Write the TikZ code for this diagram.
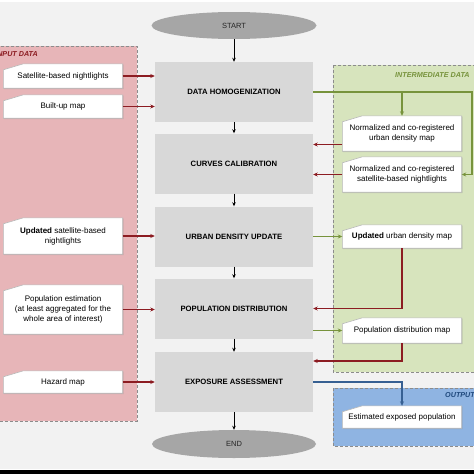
\documentclass[tikz,border=0pt]{standalone}
\usepackage{fontspec}
\setmainfont{Liberation Sans}
\usepackage{xcolor}
\usetikzlibrary{arrows.meta, shapes.geometric, positioning, calc, shadows}
\definecolor{pagegray}{RGB}{242,242,242}
\definecolor{procgray}{RGB}{216,216,216}
\definecolor{termgray}{RGB}{166,166,166}
\definecolor{inzone}{RGB}{231,181,184}
\definecolor{midzone}{RGB}{215,228,189}
\definecolor{outzone}{RGB}{143,180,226}
\definecolor{redline}{RGB}{140,28,34}
\definecolor{greenline}{RGB}{119,147,60}
\definecolor{blueline}{RGB}{55,96,146}
\definecolor{bluetext}{RGB}{31,73,125}
\pgfdeclarelayer{zones}
\pgfdeclarelayer{cards}
\pgfsetlayers{zones,cards,main}
\tikzset{
  proc/.style={rectangle, fill=procgray, minimum width=158pt, minimum height=60pt,
               inner sep=0pt, font=\fontsize{7.7}{9}\selectfont\bfseries},
  term/.style={ellipse, fill=termgray, minimum width=165pt, minimum height=27pt,
               inner sep=0pt, font=\fontsize{7.5}{9}\selectfont, text=black!85},
  card/.style={rectangle, minimum width=119pt, inner sep=1pt, align=center,
               font=\fontsize{8}{10}\selectfont},
  cardline/.style={draw=black!28, fill=white, line width=0.6pt,
                   drop shadow={shadow xshift=0.8pt, shadow yshift=-0.8pt, opacity=0.25}},
  zone/.style={draw=black!45, line width=0.8pt, dash pattern=on 3pt off 2pt},
  zonelabel/.style={inner sep=0pt, font=\fontsize{7.2}{8}\selectfont\bfseries\itshape},
  flow/.style={-{Stealth[length=4pt,width=3.5pt]}, line width=0.9pt, black},
  arcin/.style={-{Stealth[length=4.5pt,width=4pt]}, line width=1.3pt, redline},
  arcmid/.style={-{Stealth[length=4.5pt,width=4pt]}, line width=1.5pt, greenline},
  arcout/.style={-{Stealth[length=4.5pt,width=4pt]}, line width=1.3pt, blueline}
}

\begin{document}
\begin{tikzpicture}[x=1pt, y=-1pt]
  \useasboundingbox (0,0) rectangle (474,474);
  \clip (0,0) rectangle (474,474);

  % page and zones
  \begin{pgfonlayer}{zones}
    \fill[white] (0,0) rectangle (474,474);
    \fill[pagegray] (0,2) rectangle (474,468.5);
    \fill[black] (0,470) rectangle (474,474);
    \filldraw[zone, fill=inzone] (-5,46) rectangle (137,421);
    \filldraw[zone, fill=midzone] (333,65) rectangle (480,372);
    \filldraw[zone, fill=outzone] (333,388) rectangle (480,446);
  \end{pgfonlayer}
  \node[zonelabel, text=redline, anchor=east] (inlab) at (38,54) {INPUT DATA};
  \node[zonelabel, text=greenline, anchor=west] (midlab) at (395,75) {INTERMEDIATE DATA};
  \node[zonelabel, text=bluetext, anchor=west] (outlab) at (445,395) {OUTPUT};

  % main flow
  \node[term] (start) at (234,25.5) {START};
  \node[proc] (homog) at (234,92) {DATA HOMOGENIZATION};
  \node[proc] (calib) at (234,163.5) {CURVES CALIBRATION};
  \node[proc] (update) at (234,236.5) {URBAN DENSITY UPDATE};
  \node[proc] (distrib) at (234,308.5) {POPULATION DISTRIBUTION};
  \node[proc] (expo) at (234,382) {EXPOSURE ASSESSMENT};
  \node[term, minimum width=164pt, minimum height=28pt] (end) at (234,444) {END};

  \draw[flow] (start) -- (homog);
  \draw[flow] (homog) -- (calib);
  \draw[flow] (calib) -- (update);
  \draw[flow] (update) -- (distrib);
  \draw[flow] (distrib) -- (expo);
  \draw[flow] (expo) -- (end);

  % input data
  \node[card, minimum height=24pt] (in1) at (63,76) {Satellite-based nightlights};
  \node[card, minimum height=23pt] (in2) at (63,106.5) {Built-up map};
  \node[card, minimum height=36pt] (in3) at (63,236) {\textbf{Updated} satellite-based\\nightlights};
  \node[card, minimum height=49pt] (in4) at (63,309.5) {Population estimation\\(at least aggregated for the\\whole area of interest)};
  \node[card, minimum height=22pt] (in5) at (63,382) {Hazard map};

  % intermediate and output data
  \node[card, minimum height=35pt] (mid1) at (402,133.5) {Normalized and co-registered\\urban density map};
  \node[card, minimum height=35pt] (mid2) at (402,174.5) {Normalized and co-registered\\satellite-based nightlights};
  \node[card, minimum height=23pt] (mid3) at (402,236.5) {\textbf{Updated} urban density map};
  \node[card, minimum height=25pt] (mid4) at (402,330.5) {Population distribution map};
  \node[card, minimum height=22pt] (out1) at (402,417) {Estimated exposed population};

  \begin{pgfonlayer}{cards}
    \foreach \n in {in1,in2,in3,in4,in5,mid1,mid2,mid3,mid4,out1}
      \draw[cardline] (\n.south west) -- ([yshift=-6pt]\n.north west)
        -- ([xshift=20pt]\n.north west) -- (\n.north east) -- (\n.south east) -- cycle;
  \end{pgfonlayer}

  % connectors
  \draw[arcin] (in1.east) -- (in1.east -| homog.west);
  \draw[arcin] (in2.east) -- (in2.east -| homog.west);
  \draw[arcin] (in3.east) -- (in3.east -| update.west);
  \draw[arcin] (in4.east) -- (in4.east -| distrib.west);
  \draw[arcin] (in5.east) -- (in5.east -| expo.west);

  \coordinate (gturn) at (472,92);
  \draw[arcmid] (homog.east) -| (mid1.north);
  \draw[arcmid] (homog.east) -- (gturn) |- (mid2.east);
  \draw[arcin] ([yshift=-11pt]mid1.west) -- ([yshift=-11pt]mid1.west -| calib.east);
  \draw[arcin] (mid2.west) -- (mid2.west -| calib.east);

  \draw[arcmid] (update.east) -- (mid3.west);
  \draw[arcin] (mid3.south) |- (distrib.east);
  \draw[arcmid] (mid4.west -| distrib.east) -- (mid4.west);
  \draw[arcin] (mid4.south) |- ([yshift=21pt]expo.east);
  \draw[arcout] (expo.east) -| (out1.north);
\end{tikzpicture}
\end{document}
